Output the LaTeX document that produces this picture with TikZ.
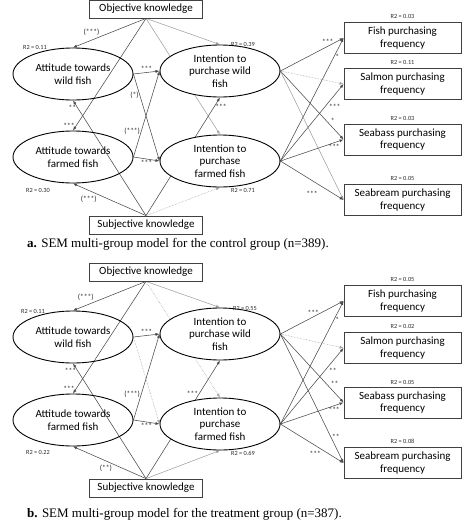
\documentclass[tikz,border=0pt]{standalone}
\usepackage{fontspec}
\setmainfont{Carlito}
\newfontfamily\capfont{Liberation Serif}
\usepackage{tikz}
\usetikzlibrary{arrows.meta,positioning,shapes.geometric,backgrounds}
\definecolor{semLine}{HTML}{4A4A4A}
\definecolor{semFaint}{HTML}{A0A0A0}
\definecolor{semBorder}{HTML}{404040}
\definecolor{semText}{HTML}{2A2A2A}
\tikzset{
  knowbox/.style={draw=semBorder, line width=0.8pt, minimum width=113pt, minimum height=18pt, inner sep=0pt, font=\fontsize{11}{12.5}\selectfont},
  freqbox/.style={knowbox, minimum width=117pt, minimum height=31pt, align=center},
  latent/.style={ellipse, draw=black, line width=0.9pt, minimum width=120pt, minimum height=52pt, inner sep=0pt, align=center, font=\fontsize{11}{12.5}\selectfont},
  intent/.style={latent, fill=white},
  sigpath/.style={-{Latex[length=4pt,width=3pt]}, draw=semLine, line width=0.55pt},
  nspath/.style={sigpath, draw=semFaint},
  dotpath/.style={nspath, densely dotted},
  stars/.style={font=\fontsize{7.5}{8}\selectfont, inner sep=1pt, text=semText},
  rsq/.style={font=\fontsize{6.3}{7}\selectfont, inner sep=0pt, text=semText},
  caption/.style={font=\capfont\fontsize{13}{15}\selectfont, anchor=base west, inner sep=0pt}
}

\begin{document}
\begin{tikzpicture}[x=1pt, y=-1pt]
  \useasboundingbox (0,0) rectangle (474,520);
  % a. control group
  \node[knowbox] (objA) at (146,9) {Objective knowledge};
  \node[knowbox] (subjA) at (146,225) {Subjective knowledge};
  \node[latent] (attwA) at (73,74) {Attitude towards\\wild fish};
  \node[latent] (attfA) at (73,157) {Attitude towards\\farmed fish};
  \node[intent] (intwA) at (220,71) {Intention to\\purchase wild\\fish};
  \node[intent] (intfA) at (220,161) {Intention to\\purchase\\farmed fish};
  \node[freqbox] (fishA) at (402.5,38) {Fish purchasing\\frequency};
  \node[freqbox] (salmA) at (402.5,84) {Salmon purchasing\\frequency};
  \node[freqbox] (bassA) at (402.5,139.5) {Seabass purchasing\\frequency};
  \node[freqbox] (breamA) at (402.5,200) {Seabream purchasing\\frequency};
  \node[rsq] (r2attwA) at (35,47) {R2 = 0.11};
  \node[rsq] (r2attfA) at (38,190) {R2 = 0.30};
  \node[rsq] (r2intwA) at (243,44) {R2 = 0.39};
  \node[rsq] (r2intfA) at (243,190) {R2 = 0.71};
  \node[rsq] (r2fishA) at (402.5,16) {R2 = 0.03};
  \node[rsq] (r2salmA) at (402.5,62) {R2 = 0.11};
  \node[rsq] (r2bassA) at (402.5,118) {R2 = 0.03};
  \node[rsq] (r2breamA) at (402.5,178) {R2 = 0.05};
  \begin{pgfonlayer}{background}
    \draw[sigpath] (objA.south) -- node[stars, pos=0.62, above left]{(***)} (attwA.north);
    \draw[nspath] (objA.south) -- (intwA.north);
    \draw[sigpath] (objA.south) -- node[stars, pos=0.96, left]{***} (attfA.north);
    \draw[nspath] (objA.south) -- (intfA.north);
    \draw[sigpath] (subjA.north) -- node[stars, pos=0.66, below left]{(***)} (attfA.south);
    \draw[sigpath] (subjA.north) -- node[stars, pos=0.94, left]{**} (attwA.south);
    \draw[sigpath] (subjA.north) -- node[stars, pos=0.92, right]{***} (intwA.south);
    \draw[dotpath] (subjA.north) -- (intfA.south);
    \draw[sigpath] (attwA.east) -- node[stars, above]{***} (intwA.west);
    \draw[sigpath] (attfA.east) -- node[stars, below]{***} (intfA.west);
    \draw[sigpath] (attwA.east) -- node[stars, pos=0.25, left]{(*)} (intfA.west);
    \draw[sigpath] (attfA.east) -- node[stars, pos=0.3, left]{(***)} (intwA.west);
    \draw[sigpath] (intwA.east) -- node[stars, pos=0.75, above]{***} (fishA.west);
    \draw[dotpath] (intwA.east) -- (salmA.west);
    \draw[sigpath] (intwA.east) -- node[stars, pos=0.78, above right]{*} (bassA.west);
    \draw[nspath] (intwA.east) -- (breamA.west);
    \draw[sigpath] (intfA.east) -- node[stars, pos=0.85, right]{*} (fishA.west);
    \draw[sigpath] (intfA.east) -- node[stars, pos=0.75, below right]{***} (salmA.west);
    \draw[sigpath] (intfA.east) -- node[stars, pos=0.85, below]{***} (bassA.west);
    \draw[sigpath] (intfA.east) -- node[stars, pos=0.5, below=9pt]{***} (breamA.west);
  \end{pgfonlayer}
  \node[caption] (capA) at (27,247) {\textbf{a.} SEM multi-group model for the control group (n=389).};

  % b. treatment group
  \begin{scope}[yshift=-263pt]
    \node[knowbox] (objB) at (146,9) {Objective knowledge};
    \node[knowbox] (subjB) at (146,225) {Subjective knowledge};
    \node[latent] (attwB) at (73,74) {Attitude towards\\wild fish};
    \node[latent] (attfB) at (73,157) {Attitude towards\\farmed fish};
    \node[intent] (intwB) at (220,71) {Intention to\\purchase wild\\fish};
    \node[intent] (intfB) at (220,161) {Intention to\\purchase\\farmed fish};
    \node[freqbox] (fishB) at (402.5,38) {Fish purchasing\\frequency};
    \node[freqbox] (salmB) at (402.5,85) {Salmon purchasing\\frequency};
    \node[freqbox] (bassB) at (402.5,139.5) {Seabass purchasing\\frequency};
    \node[freqbox] (breamB) at (402.5,200) {Seabream purchasing\\frequency};
    \node[rsq] (r2attwB) at (33,48) {R2 = 0.11};
    \node[rsq] (r2attfB) at (38,189) {R2 = 0.22};
    \node[rsq] (r2intwB) at (245,45) {R2 = 0.55};
    \node[rsq] (r2intfB) at (243,190) {R2 = 0.69};
    \node[rsq] (r2fishB) at (402.5,16) {R2 = 0.05};
    \node[rsq] (r2salmB) at (402.5,63) {R2 = 0.02};
    \node[rsq] (r2bassB) at (402.5,119) {R2 = 0.05};
    \node[rsq] (r2breamB) at (402.5,178) {R2 = 0.08};
    \begin{pgfonlayer}{background}
      \draw[sigpath] (objB.south) -- node[stars, pos=0.7, above left]{(***)} (attwB.north);
      \draw[nspath] (objB.south) -- (intwB.north);
      \draw[sigpath] (objB.south) -- node[stars, pos=0.96, left]{***} (attfB.north);
      \draw[dotpath] (objB.south) -- (intfB.north);
      \draw[sigpath] (subjB.north) -- node[stars, pos=0.45, below left]{(**)} (attfB.south);
      \draw[sigpath] (subjB.north) -- node[stars, pos=0.94, left]{***} (attwB.south);
      \draw[sigpath] (subjB.north) -- node[stars, pos=0.72, left]{***} (intwB.south);
      \draw[nspath] (subjB.north) -- (intfB.south);
      \draw[sigpath] (attwB.east) -- node[stars, above]{***} (intwB.west);
      \draw[sigpath] (attfB.east) -- node[stars, below]{***} (intfB.west);
      \draw[dotpath] (attwB.east) -- (intfB.west);
      \draw[sigpath] (attfB.east) -- node[stars, pos=0.3, left]{(***)} (intwB.west);
      \draw[sigpath] (intwB.east) -- node[stars, pos=0.52, above]{***} (fishB.west);
      \draw[dotpath] (intwB.east) -- (salmB.west);
      \draw[sigpath] (intwB.east) -- node[stars, pos=0.78, above right]{**} (bassB.west);
      \draw[sigpath] (intwB.east) -- node[stars, pos=0.8, right]{**} (breamB.west);
      \draw[sigpath] (intfB.east) -- node[stars, pos=0.85, right]{*} (fishB.west);
      \draw[sigpath] (intfB.east) -- node[stars, pos=0.75, below right]{**} (salmB.west);
      \draw[sigpath] (intfB.east) -- node[stars, pos=0.85, below]{***} (bassB.west);
      \draw[sigpath] (intfB.east) -- node[stars, pos=0.55, below=4pt]{***} (breamB.west);
    \end{pgfonlayer}
  \end{scope}
  \node[caption] (capB) at (27,517) {\textbf{b.} SEM multi-group model for the treatment group (n=387).};
\end{tikzpicture}
\end{document}
